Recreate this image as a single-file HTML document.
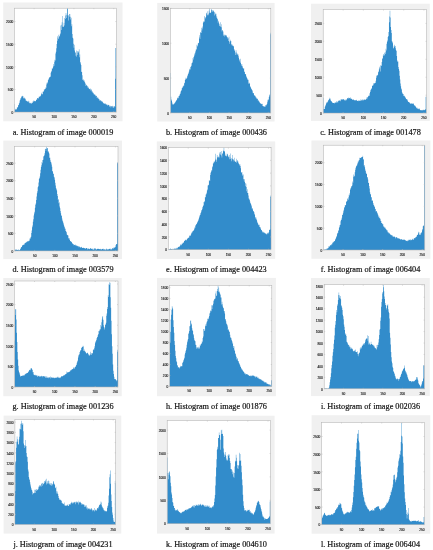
<!DOCTYPE html>
<html lang="en">
<head>
<meta charset="utf-8">
<title>Histograms of images</title>
<style>
html,body{margin:0;padding:0;background:#fff;}
body{width:433px;height:550px;position:relative;overflow:hidden;}
#fig{position:absolute;left:0;top:0;width:433px;height:550px;}
#fig text{font-family:"Liberation Sans",sans-serif;font-size:3.2px;fill:#1c1c1c;stroke:#1c1c1c;stroke-width:0.12px;}
#fig text.cap{font-family:"Liberation Serif",serif;font-size:8.25px;fill:#111;stroke:#111;stroke-width:0.18px;}
</style>
</head>
<body>
<svg id="fig" width="433" height="550" viewBox="0 0 433 550">
<defs><filter id="soft" x="-5%" y="-5%" width="110%" height="110%"><feGaussianBlur stdDeviation="0.3"/></filter></defs>
<g id="p-a">
<clipPath id="clip-a"><rect x="14.5" y="8.2" width="101.8" height="103.9"/></clipPath>
<rect x="3.2" y="2.5" width="119.3" height="118.8" fill="#f0f0f0"/>
<rect x="14.5" y="8.2" width="101.8" height="103.9" fill="#fff"/>
<path d="M14.5 114.1V104.09H14.9V109.75H15.3V109.43H15.69V108.71H16.09V109.2H16.49V109.42H16.89V107.38H17.28V107.52H17.68V106.98H18.08V105.35H18.48V104.9H18.87V103.55H19.27V102.71H19.67V100.52H20.07V99.69H20.46V98.35H20.86V98.13H21.26V96.92H21.66V96.08H22.06V95.78H22.45V96.45H22.85V95.96H23.25V97.84H23.65V98.41H24.04V98.45H24.44V97.57H24.84V98.29H25.24V98.93H25.63V100.45H26.03V100.74H26.43V100.68H26.83V101.17H27.22V101.46H27.62V101.4H28.02V100.63H28.42V102.32H28.82V101.26H29.21V103.14H29.61V102.67H30.01V103.27H30.41V102.87H30.8V103.55H31.2V103.71H31.6V102.86H32V102.45H32.39V102.95H32.79V101.23H33.19V100.59H33.59V101.74H33.99V100.86H34.38V101.08H34.78V101.47H35.18V100.94H35.58V101.25H35.97V99.92H36.37V99.59H36.77V99.58H37.17V97.96H37.56V97.94H37.96V98.7H38.36V98.12H38.76V96.74H39.15V96.92H39.55V96.16H39.95V96.59H40.35V96.11H40.75V95.28H41.14V93.97H41.54V92.81H41.94V94.29H42.34V94.24H42.73V91.79H43.13V91.58H43.53V91.43H43.93V89.24H44.32V90.37H44.72V89.04H45.12V89.02H45.52V87.38H45.91V87.81H46.31V84.62H46.71V82.77H47.11V83.46H47.51V82.23H47.9V80.27H48.3V79.48H48.7V78.48H49.1V77.32H49.49V77.45H49.89V77.04H50.29V76.41H50.69V72.74H51.08V70.81H51.48V71.82H51.88V68.17H52.28V68.88H52.67V67.72H53.07V66.39H53.47V64H53.87V65.78H54.27V61.85H54.66V59.66H55.06V60.4H55.46V53.55H55.86V51.65H56.25V48.26H56.65V44.07H57.05V40.8H57.45V36.23H57.84V37.68H58.24V38.93H58.64V34.74H59.04V36.33H59.44V36.41H59.83V34.4H60.23V33.59H60.63V25.5H61.03V24.67H61.42V29.91H61.82V22.33H62.22V26.69H62.62V16.03H63.01V26.69H63.41V26.72H63.81V22.68H64.21V25.52H64.6V18.09H65V18.9H65.4V15.39H65.8V12.98H66.2V17.9H66.59V14.86H66.99V8.2H67.39V8.2H67.79V15.44H68.18V15.29H68.58V20.42H68.98V16.75H69.38V14H69.77V14.05H70.17V19.55H70.57V16.67H70.97V17.78H71.36V26.2H71.76V24.13H72.16V33.99H72.56V37.83H72.96V38.48H73.35V43.72H73.75V47.72H74.15V44.73H74.55V50.48H74.94V52.07H75.34V53.02H75.74V55.75H76.14V56.67H76.53V50.5H76.93V55.05H77.33V51.09H77.73V52.49H78.12V51.24H78.52V52.61H78.92V49.18H79.32V57.33H79.72V54.56H80.11V62.05H80.51V63.57H80.91V65.09H81.31V71.65H81.7V71.95H82.1V75.23H82.5V80.01H82.9V78.98H83.29V80.55H83.69V80.41H84.09V80.56H84.49V82.05H84.89V82.87H85.28V83.72H85.68V86.03H86.08V84.67H86.48V85.33H86.87V85.73H87.27V87.47H87.67V85.99H88.07V87.47H88.46V87.76H88.86V88.98H89.26V88.65H89.66V89.2H90.05V88.51H90.45V90.57H90.85V89.23H91.25V89.66H91.65V91.47H92.04V91.3H92.44V92.44H92.84V92.42H93.24V94.23H93.63V93.11H94.03V93.99H94.43V95H94.83V94.5H95.22V95.31H95.62V96.35H96.02V95.82H96.42V96.02H96.81V97.96H97.21V96.95H97.61V98.27H98.01V97.65H98.41V99.08H98.8V99.23H99.2V100.75H99.6V99.55H100V100.16H100.39V100.35H100.79V101.34H101.19V100.71H101.59V101.43H101.98V101.6H102.38V101.87H102.78V102.42H103.18V103.17H103.57V103.13H103.97V103.95H104.37V103.56H104.77V103.34H105.17V103.58H105.56V104.14H105.96V104.65H106.36V104.18H106.76V104.42H107.15V105.69H107.55V104.63H107.95V104.99H108.35V104.73H108.74V105.24H109.14V106.68H109.54V105.59H109.94V106.17H110.34V105.85H110.73V107.41H111.13V106.25H111.53V106.13H111.93V105.77H112.32V106.36H112.72V107.41H113.12V106.42H113.52V108.08H113.91V106.06H114.31V106.35H114.71V107.23H115.11V78.72H115.5V48.01H115.9V47.99H116.3V114.1Z" fill="#318ccb" filter="url(#soft)" clip-path="url(#clip-a)"/>
<rect x="14.5" y="8.2" width="101.8" height="103.9" fill="none" stroke="#b4b4b4" stroke-width="0.55"/>
<text x="34.16" y="118" text-anchor="middle">50</text>
<text x="54.06" y="118" text-anchor="middle">100</text>
<text x="73.96" y="118" text-anchor="middle">150</text>
<text x="93.85" y="118" text-anchor="middle">200</text>
<text x="113.75" y="118" text-anchor="middle">250</text>
<text x="13.2" y="113.85" text-anchor="end">0</text>
<text x="13.2" y="91.21" text-anchor="end">500</text>
<text x="13.2" y="68.58" text-anchor="end">1000</text>
<text x="13.2" y="45.94" text-anchor="end">1500</text>
<text x="13.2" y="23.31" text-anchor="end">2000</text>
<path d="M34.16 112.1v-1M34.16 8.2v1M54.06 112.1v-1M54.06 8.2v1M73.96 112.1v-1M73.96 8.2v1M93.85 112.1v-1M93.85 8.2v1M113.75 112.1v-1M113.75 8.2v1M14.5 112.1h1M116.3 112.1h-1M14.5 89.46h1M116.3 89.46h-1M14.5 66.83h1M116.3 66.83h-1M14.5 44.19h1M116.3 44.19h-1M14.5 21.56h1M116.3 21.56h-1" stroke="#b4b4b4" stroke-width="0.5" fill="none"/>
</g>
<g id="p-b">
<clipPath id="clip-b"><rect x="170.4" y="8.4" width="100.4" height="104.5"/></clipPath>
<rect x="157.2" y="2.9" width="117.4" height="118.6" fill="#f0f0f0"/>
<rect x="170.4" y="8.4" width="100.4" height="104.5" fill="#fff"/>
<path d="M170.4 114.9V72.98H170.79V96.65H171.18V99.58H171.58V100.82H171.97V102.43H172.36V103.88H172.75V105.04H173.15V104.1H173.54V104.4H173.93V103.33H174.32V103.65H174.71V102.84H175.11V102.19H175.5V101.6H175.89V100.85H176.28V100.21H176.68V99.72H177.07V98.42H177.46V97.74H177.85V97.54H178.24V98.22H178.64V96.12H179.03V96.03H179.42V95.31H179.81V94.06H180.2V93.56H180.6V91.4H180.99V90.9H181.38V89.95H181.77V88.28H182.17V88H182.56V86.69H182.95V86.48H183.34V85.56H183.73V85.84H184.13V83.28H184.52V82.81H184.91V80.12H185.3V79.33H185.7V77.74H186.09V78.89H186.48V78.28H186.87V77.58H187.26V76H187.66V74.76H188.05V73.98H188.44V72.65H188.83V71.43H189.23V68.8H189.62V69.77H190.01V69.45H190.4V66.94H190.79V66.48H191.19V65.63H191.58V63.37H191.97V61.87H192.36V63.11H192.75V57.95H193.15V59.62H193.54V57.11H193.93V56.33H194.32V53.39H194.72V54.63H195.11V52.44H195.5V50.78H195.89V49.07H196.28V49.8H196.68V44.74H197.07V46.61H197.46V45.42H197.85V43.38H198.25V42.97H198.64V42.83H199.03V37.4H199.42V35.23H199.81V39.11H200.21V32.71H200.6V32.02H200.99V33.02H201.38V27.65H201.78V30.57H202.17V28.44H202.56V26.51H202.95V22.83H203.34V21.79H203.74V21.14H204.13V21.73H204.52V15.91H204.91V17.18H205.3V18.43H205.7V17.37H206.09V12.68H206.48V13.57H206.87V15.58H207.27V14.85H207.66V11.29H208.05V15.21H208.44V13.86H208.83V10.62H209.23V12.82H209.62V8.4H210.01V13H210.4V12.64H210.8V12.28H211.19V9.11H211.58V9.92H211.97V11.22H212.36V9.9H212.76V11.99H213.15V10.8H213.54V10.48H213.93V11.75H214.33V15.39H214.72V12.25H215.11V14.41H215.5V13.51H215.89V13.71H216.29V17.7H216.68V16.19H217.07V19.3H217.46V18.62H217.85V23.33H218.25V20.74H218.64V21.82H219.03V25.84H219.42V23.71H219.82V26.18H220.21V22.33H220.6V26.8H220.99V24.36H221.38V27.28H221.78V31.49H222.17V29.97H222.56V30.61H222.95V31.53H223.35V35.86H223.74V34.58H224.13V36.39H224.52V34.82H224.91V35.04H225.31V35.81H225.7V34.73H226.09V36.15H226.48V35.17H226.88V37.08H227.27V38.51H227.66V37.16H228.05V38.13H228.44V41.03H228.84V36.79H229.23V41.84H229.62V43.8H230.01V39.86H230.4V41.31H230.8V40.91H231.19V44.02H231.58V45.22H231.97V44.54H232.37V45.42H232.76V46.08H233.15V46.59H233.54V45.77H233.93V48.98H234.33V50.75H234.72V50.26H235.11V52.58H235.5V54.89H235.9V50.18H236.29V52.41H236.68V54.5H237.07V54.71H237.46V53.41H237.86V54.21H238.25V55.87H238.64V57.76H239.03V59.35H239.43V60.57H239.82V61.65H240.21V58.79H240.6V62.97H240.99V64.3H241.39V65.85H241.78V63.98H242.17V67.4H242.56V66.1H242.95V68.26H243.35V68.77H243.74V68.28H244.13V72H244.52V71.57H244.92V73.97H245.31V74.01H245.7V74.41H246.09V76.3H246.48V77.31H246.88V77.92H247.27V79.01H247.66V79.96H248.05V79.83H248.45V83.73H248.84V82.41H249.23V83.54H249.62V83.48H250.01V86.33H250.41V86.91H250.8V87.9H251.19V89.37H251.58V89.24H251.98V89.93H252.37V91.28H252.76V93.31H253.15V92.98H253.54V93.27H253.94V95.49H254.33V95.4H254.72V95.23H255.11V95.99H255.5V97.35H255.9V97.51H256.29V97.87H256.68V99.09H257.07V98.84H257.47V98.82H257.86V100.73H258.25V100.09H258.64V101.24H259.03V101.6H259.43V102.37H259.82V102.93H260.21V103.61H260.6V103.4H261V104.01H261.39V104.29H261.78V103.6H262.17V104.1H262.56V106.08H262.96V106.41H263.35V106.23H263.74V106.04H264.13V106.24H264.52V106.92H264.92V107.1H265.31V105.01H265.7V105.87H266.09V105.34H266.49V104.49H266.88V103.69H267.27V101.84H267.66V99.73H268.05V100.32H268.45V99.31H268.84V96.93H269.23V95.39H269.62V94.42H270.02V32.78H270.41V34.18H270.8V114.9Z" fill="#318ccb" filter="url(#soft)" clip-path="url(#clip-b)"/>
<rect x="170.4" y="8.4" width="100.4" height="104.5" fill="none" stroke="#b4b4b4" stroke-width="0.55"/>
<text x="189.79" y="118.8" text-anchor="middle">50</text>
<text x="209.41" y="118.8" text-anchor="middle">100</text>
<text x="229.04" y="118.8" text-anchor="middle">150</text>
<text x="248.66" y="118.8" text-anchor="middle">200</text>
<text x="268.29" y="118.8" text-anchor="middle">250</text>
<text x="169.1" y="114.65" text-anchor="end">0</text>
<text x="169.1" y="79.82" text-anchor="end">500</text>
<text x="169.1" y="44.98" text-anchor="end">1000</text>
<text x="169.1" y="10.15" text-anchor="end">1500</text>
<path d="M189.79 112.9v-1M189.79 8.4v1M209.41 112.9v-1M209.41 8.4v1M229.04 112.9v-1M229.04 8.4v1M248.66 112.9v-1M248.66 8.4v1M268.29 112.9v-1M268.29 8.4v1M170.4 112.9h1M270.8 112.9h-1M170.4 78.07h1M270.8 78.07h-1M170.4 43.23h1M270.8 43.23h-1M170.4 8.4h1M270.8 8.4h-1" stroke="#b4b4b4" stroke-width="0.5" fill="none"/>
</g>
<g id="p-c">
<clipPath id="clip-c"><rect x="323.2" y="9.5" width="103.3" height="103.6"/></clipPath>
<rect x="311" y="3.7" width="118.8" height="117.2" fill="#f0f0f0"/>
<rect x="323.2" y="9.5" width="103.3" height="103.6" fill="#fff"/>
<path d="M323.2 115.1V97.85H323.6V108.89H324.01V109H324.41V109.01H324.81V106.66H325.22V105.8H325.62V104.64H326.02V103.57H326.43V102.35H326.83V103.03H327.24V101.55H327.64V101.89H328.04V100.34H328.45V100.18H328.85V99.13H329.25V97.72H329.66V98.99H330.06V98.46H330.46V100.18H330.87V101.04H331.27V100.89H331.67V101.95H332.08V102.59H332.48V102.85H332.88V102.96H333.29V103.04H333.69V102.89H334.09V103.5H334.5V102.84H334.9V102.45H335.31V102.84H335.71V102.2H336.11V102.72H336.52V101.28H336.92V101.31H337.32V102.19H337.73V102.46H338.13V100.78H338.53V100.87H338.94V100.63H339.34V99.95H339.74V101.06H340.15V99.42H340.55V101.22H340.95V99.64H341.36V99.15H341.76V99.3H342.17V99.41H342.57V99.48H342.97V99.07H343.38V99.13H343.78V99.87H344.18V100.48H344.59V99.87H344.99V99.4H345.39V100.44H345.8V100.39H346.2V99.39H346.6V99.41H347.01V98.32H347.41V98.22H347.81V98.25H348.22V97.56H348.62V98.46H349.02V98.28H349.43V97.92H349.83V97.8H350.24V97.41H350.64V98.96H351.04V98.74H351.45V98.85H351.85V98.92H352.25V99.76H352.66V99.99H353.06V100.04H353.46V99.08H353.87V100.34H354.27V100.1H354.67V100.52H355.08V99.91H355.48V100.43H355.88V100.37H356.29V99.85H356.69V100.41H357.1V100.93H357.5V100.88H357.9V100.26H358.31V100.79H358.71V101.26H359.11V100.68H359.52V100.4H359.92V101.06H360.32V100.47H360.73V99.17H361.13V100.67H361.53V99.93H361.94V99.46H362.34V100.47H362.74V99.56H363.15V100.46H363.55V99.7H363.96V99.83H364.36V99.43H364.76V99.58H365.17V99.78H365.57V99.73H365.97V99.02H366.38V97.46H366.78V99.25H367.18V97.05H367.59V97.56H367.99V96.48H368.39V95.82H368.8V95.69H369.2V95.74H369.6V93.21H370.01V92.05H370.41V90.27H370.81V89.52H371.22V88.55H371.62V88.41H372.03V85.6H372.43V86.06H372.83V85.45H373.24V84.47H373.64V83.03H374.04V83.15H374.45V83.4H374.85V83.06H375.25V82.74H375.66V80.72H376.06V77.67H376.46V75.51H376.87V75.99H377.27V75.02H377.67V74.76H378.08V72.13H378.48V71.46H378.89V69.46H379.29V66.65H379.69V68.24H380.1V71.62H380.5V65.26H380.9V65.71H381.31V65.67H381.71V61.9H382.11V59.02H382.52V58.02H382.92V55.6H383.32V53.98H383.73V55.81H384.13V55.31H384.53V52.75H384.94V52.18H385.34V54.11H385.74V48.72H386.15V50.49H386.55V43.66H386.96V41.68H387.36V40.47H387.76V36.91H388.17V36.01H388.57V31.93H388.97V22.36H389.38V16.51H389.78V10.81H390.18V17.5H390.59V27.1H390.99V29.91H391.39V32.88H391.8V41.13H392.2V41.75H392.6V43.32H393.01V47.71H393.41V48.43H393.82V45.67H394.22V46.73H394.62V44.84H395.03V46.04H395.43V48.18H395.83V50.11H396.24V50.99H396.64V56.1H397.04V60.41H397.45V61.64H397.85V61.55H398.25V66.95H398.66V69.03H399.06V70.75H399.46V75.73H399.87V79.47H400.27V83.52H400.68V86.27H401.08V88.61H401.48V89.61H401.89V92.21H402.29V93.15H402.69V93.88H403.1V94.07H403.5V95.94H403.9V95.55H404.31V96.16H404.71V96.52H405.11V97.37H405.52V98.02H405.92V98.91H406.32V99.12H406.73V99.51H407.13V99.44H407.53V100.65H407.94V101.97H408.34V101.81H408.75V102.01H409.15V102.35H409.55V102.97H409.96V104.1H410.36V103.33H410.76V103.46H411.17V103.82H411.57V103.14H411.97V103.57H412.38V103.68H412.78V103.76H413.18V103.27H413.59V104.32H413.99V104.92H414.39V105.47H414.8V105.96H415.2V105.79H415.61V107.08H416.01V107.52H416.41V108.25H416.82V107.47H417.22V108.48H417.62V108.66H418.03V108.66H418.43V109.3H418.83V108.3H419.24V108.79H419.64V109.54H420.04V109.91H420.45V110.28H420.85V110.24H421.25V109.88H421.66V110.46H422.06V109.98H422.46V110.39H422.87V109.81H423.27V110.36H423.68V109.83H424.08V110.33H424.48V110.04H424.89V109.4H425.29V109.32H425.69V96.86H426.1V96.7H426.5V115.1Z" fill="#318ccb" filter="url(#soft)" clip-path="url(#clip-c)"/>
<rect x="323.2" y="9.5" width="103.3" height="103.6" fill="none" stroke="#b4b4b4" stroke-width="0.55"/>
<text x="343.15" y="119" text-anchor="middle">50</text>
<text x="363.34" y="119" text-anchor="middle">100</text>
<text x="383.53" y="119" text-anchor="middle">150</text>
<text x="403.72" y="119" text-anchor="middle">200</text>
<text x="423.92" y="119" text-anchor="middle">250</text>
<text x="321.9" y="114.85" text-anchor="end">0</text>
<text x="321.9" y="96.91" text-anchor="end">500</text>
<text x="321.9" y="78.96" text-anchor="end">1000</text>
<text x="321.9" y="61.02" text-anchor="end">1500</text>
<text x="321.9" y="43.08" text-anchor="end">2000</text>
<text x="321.9" y="25.14" text-anchor="end">2500</text>
<path d="M343.15 113.1v-1M343.15 9.5v1M363.34 113.1v-1M363.34 9.5v1M383.53 113.1v-1M383.53 9.5v1M403.72 113.1v-1M403.72 9.5v1M423.92 113.1v-1M423.92 9.5v1M323.2 113.1h1M426.5 113.1h-1M323.2 95.16h1M426.5 95.16h-1M323.2 77.21h1M426.5 77.21h-1M323.2 59.27h1M426.5 59.27h-1M323.2 41.33h1M426.5 41.33h-1M323.2 23.39h1M426.5 23.39h-1" stroke="#b4b4b4" stroke-width="0.5" fill="none"/>
</g>
<g id="p-d">
<clipPath id="clip-d"><rect x="14.7" y="146.4" width="103.3" height="104.5"/></clipPath>
<rect x="3.3" y="140.6" width="118.7" height="118.5" fill="#f0f0f0"/>
<rect x="14.7" y="146.4" width="103.3" height="104.5" fill="#fff"/>
<path d="M14.7 252.9V249.85H15.1V249.4H15.51V249.74H15.91V250.08H16.31V249.56H16.72V249.38H17.12V249.99H17.52V249.89H17.93V249.79H18.33V249.52H18.74V250.49H19.14V250.21H19.54V249.88H19.95V248.82H20.35V249.15H20.75V247.7H21.16V246.97H21.56V246.94H21.96V245.96H22.37V245.08H22.77V244.92H23.17V244.61H23.58V245.1H23.98V243.39H24.38V244.77H24.79V243.35H25.19V242.39H25.59V242.88H26V242.05H26.4V242.52H26.81V241.6H27.21V241.54H27.61V241.21H28.02V241.51H28.42V241.12H28.82V240.6H29.23V240.76H29.63V238.39H30.03V238.7H30.44V237.43H30.84V236.67H31.24V233.04H31.65V230.55H32.05V227.35H32.45V225.58H32.86V221.85H33.26V219.18H33.67V215.53H34.07V213.45H34.47V211.82H34.88V207.67H35.28V204.79H35.68V203.52H36.09V200.02H36.49V196.55H36.89V193.28H37.3V191.16H37.7V187.29H38.1V186.15H38.51V182.52H38.91V178.63H39.31V178.35H39.72V176.6H40.12V173.13H40.52V169.63H40.93V166.89H41.33V165.17H41.74V162.09H42.14V163.2H42.54V160.08H42.95V159.79H43.35V156.45H43.75V155.93H44.16V155.36H44.56V153.36H44.96V149.1H45.37V148.81H45.77V151.01H46.17V148.63H46.58V146.46H46.98V148.18H47.38V147.93H47.79V151.49H48.19V151.3H48.6V152.4H49V153.38H49.4V157.86H49.81V157.86H50.21V161.9H50.61V160.32H51.02V162.45H51.42V164.55H51.82V166.82H52.23V171.48H52.63V170.93H53.03V173.68H53.44V173.7H53.84V176.74H54.24V177.4H54.65V179.63H55.05V182.8H55.46V185.54H55.86V188.01H56.26V189.17H56.67V190.4H57.07V194.07H57.47V195.97H57.88V199.94H58.28V198.99H58.68V203.2H59.09V202.26H59.49V206.53H59.89V208.26H60.3V210.94H60.7V213.21H61.1V215.18H61.51V216.05H61.91V218.62H62.31V220.48H62.72V221.57H63.12V222.66H63.53V224.54H63.93V225.77H64.33V226.98H64.74V228.61H65.14V228.69H65.54V230.9H65.95V231.42H66.35V232.17H66.75V234.59H67.16V235.12H67.56V235.26H67.96V235.55H68.37V238.49H68.77V238.11H69.17V238.56H69.58V239.98H69.98V240.95H70.39V241.08H70.79V241.69H71.19V241.79H71.6V242.19H72V243.22H72.4V243.61H72.81V244.08H73.21V244H73.61V245.35H74.02V244.73H74.42V244.9H74.82V245.3H75.23V245.53H75.63V244.61H76.03V245.49H76.44V245.56H76.84V246.31H77.24V245.87H77.65V246.37H78.05V246.11H78.46V247.32H78.86V246.17H79.26V246.81H79.67V247.31H80.07V247.89H80.47V247H80.88V246.78H81.28V247.53H81.68V246.99H82.09V248.09H82.49V247.99H82.89V247.92H83.3V247.7H83.7V247.73H84.1V248.31H84.51V247.9H84.91V248.87H85.32V248.81H85.72V247.89H86.12V248.05H86.53V247.89H86.93V248.64H87.33V249.4H87.74V247.9H88.14V248.39H88.54V249.09H88.95V248.78H89.35V249.14H89.75V248.98H90.16V248.2H90.56V247.89H90.96V248.79H91.37V248.84H91.77V249.06H92.17V248.53H92.58V249.62H92.98V249.81H93.39V249.45H93.79V248.55H94.19V249.35H94.6V248.05H95V248.07H95.4V249.11H95.81V249.42H96.21V249.76H96.61V248.88H97.02V249.08H97.42V248.76H97.82V248.73H98.23V248.94H98.63V248.76H99.03V249.11H99.44V248.91H99.84V249.85H100.25V248.9H100.65V248.74H101.05V249.13H101.46V249.69H101.86V248.95H102.26V248.96H102.67V248.87H103.07V249.55H103.47V248.69H103.88V249.63H104.28V249.29H104.68V249.33H105.09V250.16H105.49V249.17H105.89V249.86H106.3V248.53H106.7V249.12H107.11V249.72H107.51V249.19H107.91V249.66H108.32V249.12H108.72V249.35H109.12V249.11H109.53V248.81H109.93V248.58H110.33V249.43H110.74V249.33H111.14V249.7H111.54V248.98H111.95V248.37H112.35V248.02H112.75V249.14H113.16V247.56H113.56V248.47H113.96V247.79H114.37V247.5H114.77V247.42H115.18V246.99H115.58V245.21H115.98V244.21H116.39V244.04H116.79V244.18H117.19V163.01H117.6V162.29H118V252.9Z" fill="#318ccb" filter="url(#soft)" clip-path="url(#clip-d)"/>
<rect x="14.7" y="146.4" width="103.3" height="104.5" fill="none" stroke="#b4b4b4" stroke-width="0.55"/>
<text x="34.65" y="256.8" text-anchor="middle">50</text>
<text x="54.84" y="256.8" text-anchor="middle">100</text>
<text x="75.03" y="256.8" text-anchor="middle">150</text>
<text x="95.22" y="256.8" text-anchor="middle">200</text>
<text x="115.42" y="256.8" text-anchor="middle">250</text>
<text x="13.4" y="252.65" text-anchor="end">0</text>
<text x="13.4" y="235.11" text-anchor="end">500</text>
<text x="13.4" y="217.57" text-anchor="end">1000</text>
<text x="13.4" y="200.03" text-anchor="end">1500</text>
<text x="13.4" y="182.49" text-anchor="end">2000</text>
<text x="13.4" y="164.95" text-anchor="end">2500</text>
<path d="M34.65 250.9v-1M34.65 146.4v1M54.84 250.9v-1M54.84 146.4v1M75.03 250.9v-1M75.03 146.4v1M95.22 250.9v-1M95.22 146.4v1M115.42 250.9v-1M115.42 146.4v1M14.7 250.9h1M118 250.9h-1M14.7 233.36h1M118 233.36h-1M14.7 215.82h1M118 215.82h-1M14.7 198.28h1M118 198.28h-1M14.7 180.74h1M118 180.74h-1M14.7 163.2h1M118 163.2h-1" stroke="#b4b4b4" stroke-width="0.5" fill="none"/>
</g>
<g id="p-e">
<clipPath id="clip-e"><rect x="168.4" y="147.6" width="102.7" height="102.1"/></clipPath>
<rect x="156.8" y="141.4" width="118.4" height="117.5" fill="#f0f0f0"/>
<rect x="168.4" y="147.6" width="102.7" height="102.1" fill="#fff"/>
<path d="M168.4 251.7V249.25H168.8V249.63H169.2V249.28H169.6V249.16H170V248.45H170.41V248.67H170.81V249.02H171.21V249.37H171.61V249.06H172.01V248.64H172.41V249.7H172.81V249.31H173.21V249.7H173.62V248.64H174.02V248.77H174.42V248.38H174.82V248.73H175.22V248.58H175.62V248.67H176.02V248.67H176.42V248.32H176.82V247.55H177.23V248.6H177.63V247.75H178.03V247.09H178.43V246.79H178.83V247.3H179.23V246.33H179.63V246.39H180.03V245.51H180.44V244.23H180.84V245.05H181.24V245.29H181.64V243.78H182.04V243.69H182.44V243.53H182.84V242.45H183.24V242.87H183.64V242.47H184.05V240.68H184.45V240.95H184.85V240.42H185.25V240.11H185.65V239.42H186.05V240.4H186.45V239.97H186.85V239.05H187.26V238.69H187.66V238.04H188.06V237.54H188.46V238.08H188.86V237.46H189.26V236.04H189.66V235.32H190.06V235.65H190.46V235.41H190.87V234.15H191.27V232.59H191.67V233.33H192.07V232.25H192.47V231.29H192.87V230.95H193.27V230.68H193.67V229.93H194.07V229.13H194.48V227.49H194.88V227.72H195.28V225.42H195.68V225.16H196.08V223.89H196.48V224.13H196.88V222.72H197.28V222.33H197.69V221.2H198.09V220.5H198.49V219.19H198.89V217.75H199.29V216.4H199.69V215.26H200.09V214.63H200.49V213.09H200.89V212.34H201.3V210.13H201.7V210.33H202.1V208.72H202.5V207.06H202.9V206.01H203.3V205.23H203.7V202H204.1V202.15H204.51V200.94H204.91V197.37H205.31V197.23H205.71V194.47H206.11V194.27H206.51V192.83H206.91V190.5H207.31V189.58H207.71V185.39H208.12V184.74H208.52V185.29H208.92V180.27H209.32V180.48H209.72V181.23H210.12V174.91H210.52V172.63H210.92V171.67H211.33V170.35H211.73V170.47H212.13V167.18H212.53V166.31H212.93V163.39H213.33V163.18H213.73V161.76H214.13V161.37H214.53V162.13H214.94V160.36H215.34V153.63H215.74V158.87H216.14V161.7H216.54V159.8H216.94V155.03H217.34V157.44H217.74V156.79H218.15V156.42H218.55V157.46H218.95V157.38H219.35V152.48H219.75V154.23H220.15V154.85H220.55V151.96H220.95V150.91H221.35V155.47H221.76V157.38H222.16V153.93H222.56V153H222.96V150.62H223.36V151.17H223.76V147.62H224.16V151.39H224.56V151.28H224.97V155.35H225.37V155.91H225.77V153.45H226.17V156.41H226.57V155.83H226.97V154.31H227.37V153.64H227.77V155.48H228.17V157.21H228.58V156.38H228.98V155.08H229.38V159.35H229.78V157.27H230.18V153.49H230.58V158.91H230.98V157.99H231.38V161.3H231.79V159.44H232.19V154.92H232.59V158.65H232.99V159.64H233.39V159.31H233.79V161.6H234.19V157.85H234.59V160.67H234.99V161.79H235.4V161.96H235.8V161.32H236.2V162.73H236.6V158.82H237V159.89H237.4V161.49H237.8V161.36H238.2V162.77H238.61V163.73H239.01V164.2H239.41V165.46H239.81V164.16H240.21V166.01H240.61V168.34H241.01V172.22H241.41V172.75H241.81V171.91H242.22V175.71H242.62V174.59H243.02V174.42H243.42V179.11H243.82V180.4H244.22V178.89H244.62V181.99H245.02V182.98H245.43V186.2H245.83V183.77H246.23V186.9H246.63V191.32H247.03V189.36H247.43V193.06H247.83V193.12H248.23V195.45H248.63V198.51H249.04V198.86H249.44V199.92H249.84V201.51H250.24V203.58H250.64V203.36H251.04V204.63H251.44V206.29H251.84V208.72H252.24V207.97H252.65V209.38H253.05V210.91H253.45V211.27H253.85V211.93H254.25V213.78H254.65V214.77H255.05V217.03H255.45V218.44H255.86V217.51H256.26V219.15H256.66V220.17H257.06V221.74H257.46V222.89H257.86V223.82H258.26V225.35H258.66V224.71H259.06V224.86H259.47V226.92H259.87V227.31H260.27V227.49H260.67V229.12H261.07V230.01H261.47V230.08H261.87V231.04H262.27V231.67H262.68V232.39H263.08V231.68H263.48V232.76H263.88V231.88H264.28V232.94H264.68V233.13H265.08V233.85H265.48V233.27H265.88V233.47H266.29V233.88H266.69V234.73H267.09V232.74H267.49V233.38H267.89V233.69H268.29V232.82H268.69V232.13H269.09V229.92H269.5V229.66H269.9V229.62H270.3V196.77H270.7V195.46H271.1V251.7Z" fill="#318ccb" filter="url(#soft)" clip-path="url(#clip-e)"/>
<rect x="168.4" y="147.6" width="102.7" height="102.1" fill="none" stroke="#b4b4b4" stroke-width="0.55"/>
<text x="188.23" y="255.6" text-anchor="middle">50</text>
<text x="208.31" y="255.6" text-anchor="middle">100</text>
<text x="228.38" y="255.6" text-anchor="middle">150</text>
<text x="248.46" y="255.6" text-anchor="middle">200</text>
<text x="268.53" y="255.6" text-anchor="middle">250</text>
<text x="167.1" y="251.45" text-anchor="end">0</text>
<text x="167.1" y="238.69" text-anchor="end">200</text>
<text x="167.1" y="225.92" text-anchor="end">400</text>
<text x="167.1" y="213.16" text-anchor="end">600</text>
<text x="167.1" y="200.4" text-anchor="end">800</text>
<text x="167.1" y="187.64" text-anchor="end">1000</text>
<text x="167.1" y="174.88" text-anchor="end">1200</text>
<text x="167.1" y="162.11" text-anchor="end">1400</text>
<text x="167.1" y="149.35" text-anchor="end">1600</text>
<path d="M188.23 249.7v-1M188.23 147.6v1M208.31 249.7v-1M208.31 147.6v1M228.38 249.7v-1M228.38 147.6v1M248.46 249.7v-1M248.46 147.6v1M268.53 249.7v-1M268.53 147.6v1M168.4 249.7h1M271.1 249.7h-1M168.4 236.94h1M271.1 236.94h-1M168.4 224.17h1M271.1 224.17h-1M168.4 211.41h1M271.1 211.41h-1M168.4 198.65h1M271.1 198.65h-1M168.4 185.89h1M271.1 185.89h-1M168.4 173.12h1M271.1 173.12h-1M168.4 160.36h1M271.1 160.36h-1M168.4 147.6h1M271.1 147.6h-1" stroke="#b4b4b4" stroke-width="0.5" fill="none"/>
</g>
<g id="p-f">
<clipPath id="clip-f"><rect x="323.5" y="145.2" width="101.3" height="104.8"/></clipPath>
<rect x="311.4" y="140.5" width="119" height="118.3" fill="#f0f0f0"/>
<rect x="323.5" y="145.2" width="101.3" height="104.8" fill="#fff"/>
<path d="M323.5 252V249.56H323.9V248.96H324.29V249.93H324.69V249.76H325.08V249.74H325.48V249.29H325.87V249.03H326.27V249.81H326.67V248.53H327.06V248.47H327.46V248.59H327.85V248.18H328.25V246.34H328.64V247.81H329.04V246.69H329.44V246.15H329.83V245.83H330.23V245.32H330.62V244.97H331.02V245.36H331.41V244.03H331.81V244.47H332.21V243.36H332.6V242.46H333V242.24H333.39V242.29H333.79V241.24H334.18V240.88H334.58V241.2H334.98V239.81H335.37V239.12H335.77V237.95H336.16V236.75H336.56V236.16H336.95V234.31H337.35V232.87H337.75V233.11H338.14V230.67H338.54V230.37H338.93V227.73H339.33V226.69H339.72V224.89H340.12V224.84H340.52V221.32H340.91V219.78H341.31V219.87H341.7V217.65H342.1V215.12H342.49V214.87H342.89V213.27H343.29V211.34H343.68V209.82H344.08V207.13H344.47V207.5H344.87V205.09H345.26V205.25H345.66V205.29H346.06V201.59H346.45V201.84H346.85V201.07H347.24V199.31H347.64V198.28H348.03V199.7H348.43V197.32H348.82V194.78H349.22V195.56H349.62V193.15H350.01V188.6H350.41V189.78H350.8V187.77H351.2V186.03H351.59V186.6H351.99V185.39H352.39V181.52H352.78V182.63H353.18V176.83H353.57V174.41H353.97V175.67H354.36V176.55H354.76V172.26H355.16V169.83H355.55V167.67H355.95V166.62H356.34V165.87H356.74V165.6H357.13V164.13H357.53V162.77H357.93V160.81H358.32V162.18H358.72V160.6H359.11V159.98H359.51V157.77H359.9V157.91H360.3V157.63H360.7V158.1H361.09V157.07H361.49V157.4H361.88V157.12H362.28V157.04H362.67V155.77H363.07V159.21H363.47V159.56H363.86V165.87H364.26V165.02H364.65V167.35H365.05V169.57H365.44V170.93H365.84V172.76H366.24V173.69H366.63V173.95H367.03V177.15H367.42V177.18H367.82V179.43H368.21V182.94H368.61V182.72H369.01V186.1H369.4V188.4H369.8V192.26H370.19V194.1H370.59V194.39H370.98V197H371.38V197.38H371.78V200.79H372.17V200.5H372.57V200.4H372.96V202.95H373.36V204.64H373.75V205.29H374.15V206.88H374.55V206.33H374.94V208.71H375.34V208.97H375.73V211.61H376.13V210.98H376.52V211.28H376.92V212.53H377.32V213.21H377.71V214.39H378.11V215.62H378.5V217.14H378.9V216.57H379.29V217.96H379.69V218.56H380.09V218.7H380.48V220.7H380.88V220.97H381.27V222.91H381.67V222.94H382.06V223.44H382.46V224.31H382.86V224.28H383.25V226.31H383.65V226.79H384.04V226.86H384.44V227.88H384.83V227.29H385.23V228.47H385.63V228.7H386.02V229.25H386.42V230.17H386.81V230.25H387.21V230.51H387.6V232.16H388V231.97H388.4V233.22H388.79V232.79H389.19V233.25H389.58V233.68H389.98V234.9H390.37V234.1H390.77V234.72H391.17V235.03H391.56V235.57H391.96V235.04H392.35V236.46H392.75V235.93H393.14V236.59H393.54V237.02H393.94V236.3H394.33V236.76H394.73V237.01H395.12V237.44H395.52V238.38H395.91V237.02H396.31V237.31H396.71V237.46H397.1V238.56H397.5V237.75H397.89V238.08H398.29V238.56H398.68V238.49H399.08V238.47H399.48V238.75H399.87V239.03H400.27V239.45H400.66V239.51H401.06V239.02H401.45V239.2H401.85V239.7H402.24V239.77H402.64V239.68H403.04V239.42H403.43V239.66H403.83V239.97H404.22V239.56H404.62V239.81H405.01V239.98H405.41V240.62H405.81V240.65H406.2V241.12H406.6V240.79H406.99V241.23H407.39V240.76H407.78V240.33H408.18V240.69H408.58V239.65H408.97V239.57H409.37V240.06H409.76V240.21H410.16V240.28H410.55V239.13H410.95V240.29H411.35V240.08H411.74V239.62H412.14V238.8H412.53V239.53H412.93V239.74H413.32V239.85H413.72V238.41H414.12V238.21H414.51V237.98H414.91V238.32H415.3V237.38H415.7V237.06H416.09V236.85H416.49V236.38H416.89V234.9H417.28V235.01H417.68V234.41H418.07V233.21H418.47V231.63H418.86V232.33H419.26V234.51H419.66V234.91H420.05V234.97H420.45V233.6H420.84V233.16H421.24V232.81H421.63V232.03H422.03V230.24H422.43V228.91H422.82V226.32H423.22V225.82H423.61V225.42H424.01V145.2H424.4V145.2H424.8V252Z" fill="#318ccb" filter="url(#soft)" clip-path="url(#clip-f)"/>
<rect x="323.5" y="145.2" width="101.3" height="104.8" fill="none" stroke="#b4b4b4" stroke-width="0.55"/>
<text x="343.06" y="255.9" text-anchor="middle">50</text>
<text x="362.86" y="255.9" text-anchor="middle">100</text>
<text x="382.66" y="255.9" text-anchor="middle">150</text>
<text x="402.46" y="255.9" text-anchor="middle">200</text>
<text x="422.27" y="255.9" text-anchor="middle">250</text>
<text x="322.2" y="251.75" text-anchor="end">0</text>
<text x="322.2" y="229.93" text-anchor="end">500</text>
<text x="322.2" y="208.1" text-anchor="end">1000</text>
<text x="322.2" y="186.28" text-anchor="end">1500</text>
<text x="322.2" y="164.45" text-anchor="end">2000</text>
<path d="M343.06 250v-1M343.06 145.2v1M362.86 250v-1M362.86 145.2v1M382.66 250v-1M382.66 145.2v1M402.46 250v-1M402.46 145.2v1M422.27 250v-1M422.27 145.2v1M323.5 250h1M424.8 250h-1M323.5 228.18h1M424.8 228.18h-1M323.5 206.35h1M424.8 206.35h-1M323.5 184.53h1M424.8 184.53h-1M323.5 162.7h1M424.8 162.7h-1" stroke="#b4b4b4" stroke-width="0.5" fill="none"/>
</g>
<g id="p-g">
<clipPath id="clip-g"><rect x="14.5" y="281" width="103.5" height="106"/></clipPath>
<rect x="3.3" y="278" width="118.4" height="118.2" fill="#f0f0f0"/>
<rect x="14.5" y="281" width="103.5" height="106" fill="#fff"/>
<path d="M14.5 389V340.41H14.9V314.9H15.31V309.36H15.71V309.26H16.12V319.58H16.52V332.8H16.93V342.12H17.33V352.06H17.73V359.39H18.14V365.72H18.54V370.51H18.95V372.03H19.35V373.3H19.76V374.69H20.16V376.02H20.56V376.7H20.97V375.98H21.37V375.98H21.78V375.8H22.18V375.36H22.59V376.09H22.99V375.96H23.39V374.91H23.8V375.3H24.2V374.46H24.61V375.41H25.01V373.75H25.42V374.36H25.82V373.68H26.22V373.09H26.63V373.52H27.03V373.04H27.44V372.89H27.84V372.19H28.25V371.26H28.65V371.76H29.05V370.14H29.46V369.89H29.86V369.41H30.27V370.14H30.67V368.32H31.08V368.19H31.48V368.27H31.88V369.15H32.29V369.99H32.69V372.25H33.1V372.01H33.5V374.53H33.91V374.75H34.31V375.3H34.71V375.12H35.12V374.74H35.52V375.46H35.93V375.65H36.33V375.11H36.74V375.8H37.14V375.56H37.54V376.92H37.95V376.19H38.35V375.91H38.76V375.41H39.16V376.82H39.57V376.18H39.97V376.36H40.38V376.14H40.78V376.92H41.18V376.09H41.59V375.7H41.99V377.31H42.4V376.08H42.8V376.07H43.21V376.36H43.61V376.25H44.01V376.57H44.42V376.33H44.82V376.82H45.23V376.17H45.63V378.1H46.04V376.31H46.44V377.45H46.84V377.88H47.25V377.66H47.65V376.87H48.06V377.16H48.46V378.27H48.87V377.53H49.27V377.2H49.67V377.5H50.08V378.58H50.48V376.61H50.89V377.23H51.29V377.63H51.7V377.13H52.1V377.69H52.5V377.63H52.91V377.35H53.31V377.8H53.72V378.04H54.12V377.8H54.53V378.37H54.93V377.36H55.33V378.1H55.74V377.93H56.14V377.28H56.55V377.9H56.95V377.05H57.36V377.79H57.76V376.59H58.16V377.5H58.57V377.71H58.97V377.13H59.38V377.98H59.78V378.3H60.19V377.28H60.59V377.39H60.99V376.84H61.4V375.88H61.8V376.34H62.21V376.37H62.61V376.21H63.02V375.78H63.42V375.4H63.82V375.04H64.23V374.78H64.63V375.46H65.04V374.13H65.44V374.36H65.85V373.93H66.25V373.6H66.65V371.61H67.06V373.09H67.46V371.91H67.87V371.96H68.27V372.35H68.68V372.37H69.08V371.91H69.48V371.49H69.89V371.13H70.29V370.45H70.7V369.98H71.1V369.52H71.51V370.35H71.91V369.22H72.31V369.04H72.72V369.18H73.12V368.14H73.53V367.27H73.93V368.99H74.34V367.77H74.74V367.27H75.14V366.91H75.55V366.27H75.95V365.15H76.36V364.81H76.76V362.7H77.17V361.48H77.57V360.57H77.97V357.53H78.38V355.42H78.78V354.78H79.19V354.37H79.59V351.93H80V351.26H80.4V350.23H80.8V350.04H81.21V347.41H81.61V348.04H82.02V346.78H82.42V346.93H82.83V345.8H83.23V346.48H83.63V350.89H84.04V349.48H84.44V350.99H84.85V351.59H85.25V351.87H85.66V352.56H86.06V353.1H86.46V353.72H86.87V353.21H87.27V352.74H87.68V352.83H88.08V353.91H88.49V354.66H88.89V355.8H89.29V355.51H89.7V354.68H90.1V354.55H90.51V351.67H90.91V353.02H91.32V354.94H91.72V353.44H92.12V352.91H92.53V353.58H92.93V349.96H93.34V349.01H93.74V350.13H94.15V348.21H94.55V346.15H94.96V343.2H95.36V341.77H95.76V341.21H96.17V338.31H96.57V340.11H96.98V336.69H97.38V337.27H97.79V334.88H98.19V330.99H98.59V333.95H99V330.34H99.4V331.33H99.81V329.06H100.21V329.38H100.62V324.97H101.02V326.43H101.42V322.2H101.83V319.55H102.23V317.17H102.64V315.98H103.04V319.81H103.45V325.17H103.85V327.08H104.25V329.62H104.66V327.84H105.06V324.21H105.47V324.94H105.87V322.71H106.28V315.87H106.68V313.49H107.08V308.97H107.49V306.89H107.89V295.28H108.3V296.99H108.7V284.19H109.11V282.2H109.51V285.04H109.91V282.7H110.32V297.32H110.72V307.63H111.13V320.71H111.53V334.36H111.94V346.35H112.34V353.69H112.74V364.54H113.15V370.81H113.55V373.92H113.96V376.7H114.36V379.1H114.77V379.37H115.17V379.11H115.57V379.41H115.98V381.15H116.38V379.9H116.79V380.53H117.19V349.84H117.6V351.78H118V389Z" fill="#318ccb" filter="url(#soft)" clip-path="url(#clip-g)"/>
<rect x="14.5" y="281" width="103.5" height="106" fill="none" stroke="#b4b4b4" stroke-width="0.55"/>
<text x="34.49" y="392.9" text-anchor="middle">50</text>
<text x="54.72" y="392.9" text-anchor="middle">100</text>
<text x="74.95" y="392.9" text-anchor="middle">150</text>
<text x="95.18" y="392.9" text-anchor="middle">200</text>
<text x="115.41" y="392.9" text-anchor="middle">250</text>
<text x="13.2" y="388.75" text-anchor="end">0</text>
<text x="13.2" y="368.15" text-anchor="end">500</text>
<text x="13.2" y="347.55" text-anchor="end">1000</text>
<text x="13.2" y="326.95" text-anchor="end">1500</text>
<text x="13.2" y="306.36" text-anchor="end">2000</text>
<text x="13.2" y="285.76" text-anchor="end">2500</text>
<path d="M34.49 387v-1M34.49 281v1M54.72 387v-1M54.72 281v1M74.95 387v-1M74.95 281v1M95.18 387v-1M95.18 281v1M115.41 387v-1M115.41 281v1M14.5 387h1M118 387h-1M14.5 366.4h1M118 366.4h-1M14.5 345.8h1M118 345.8h-1M14.5 325.2h1M118 325.2h-1M14.5 304.61h1M118 304.61h-1M14.5 284.01h1M118 284.01h-1" stroke="#b4b4b4" stroke-width="0.5" fill="none"/>
</g>
<g id="p-h">
<clipPath id="clip-h"><rect x="169.5" y="285.4" width="102.3" height="101"/></clipPath>
<rect x="157" y="277.9" width="118.9" height="118.3" fill="#f0f0f0"/>
<rect x="169.5" y="285.4" width="102.3" height="101" fill="#fff"/>
<path d="M169.5 388.4V367.76H169.9V342.55H170.3V332.06H170.7V319.42H171.1V314.85H171.5V309.79H171.9V306.15H172.3V307.86H172.7V309.37H173.1V320.29H173.5V327.04H173.9V332.66H174.3V340.96H174.69V345.03H175.09V350.78H175.49V356.01H175.89V358.16H176.29V361.27H176.69V362.24H177.09V364.89H177.49V365.65H177.89V367.75H178.29V367.07H178.69V367.14H179.09V368.42H179.49V367.62H179.89V367.32H180.29V366.52H180.69V365.64H181.09V366.54H181.49V366.02H181.89V366.13H182.29V362.89H182.69V362.15H183.09V361.57H183.49V360.1H183.89V358.63H184.29V357.63H184.69V354.6H185.08V352.98H185.48V351.33H185.88V349.7H186.28V347.65H186.68V344.72H187.08V342.15H187.48V340.58H187.88V338.89H188.28V334.06H188.68V332.71H189.08V330.96H189.48V326.29H189.88V325.81H190.28V320.72H190.68V320.5H191.08V323.62H191.48V324.61H191.88V328.15H192.28V330.36H192.68V331.03H193.08V334.03H193.48V335.36H193.88V338.22H194.28V339.91H194.68V341.11H195.08V341.17H195.47V344.63H195.87V345.1H196.27V348.68H196.67V347.13H197.07V347.7H197.47V347.26H197.87V349.05H198.27V347.8H198.67V346.78H199.07V348.85H199.47V347.4H199.87V344.74H200.27V346.02H200.67V344.57H201.07V343.93H201.47V343.25H201.87V341.35H202.27V342.22H202.67V338.08H203.07V336.56H203.47V328.97H203.87V329.08H204.27V331H204.67V330.62H205.07V326.28H205.46V324.6H205.86V326.01H206.26V323.54H206.66V321.68H207.06V321.37H207.46V318.68H207.86V318.68H208.26V319.23H208.66V317.4H209.06V313.54H209.46V315.92H209.86V312.83H210.26V311.04H210.66V310.19H211.06V311.34H211.46V305.17H211.86V309.06H212.26V305.03H212.66V305.63H213.06V303.8H213.46V300.78H213.86V300.16H214.26V299.12H214.66V298.76H215.06V293.54H215.46V298.51H215.85V291.2H216.25V295.92H216.65V295.48H217.05V290.93H217.45V288.89H217.85V285.4H218.25V291.65H218.65V287.38H219.05V292.45H219.45V291.62H219.85V293.81H220.25V294.75H220.65V297.38H221.05V297.44H221.45V304.41H221.85V301.86H222.25V304.37H222.65V306.57H223.05V307.82H223.45V308.27H223.85V311H224.25V311.15H224.65V313.46H225.05V319.32H225.45V319.14H225.84V321.21H226.24V323.57H226.64V324.32H227.04V324.81H227.44V326.62H227.84V330.02H228.24V328.92H228.64V330.57H229.04V331.73H229.44V331.86H229.84V334.8H230.24V337.89H230.64V336.98H231.04V338.22H231.44V340.01H231.84V341.08H232.24V343.76H232.64V342.4H233.04V345.88H233.44V348.1H233.84V346.26H234.24V349.73H234.64V351.09H235.04V353.83H235.44V353.42H235.84V355.75H236.23V356.89H236.63V359.59H237.03V358.05H237.43V359.3H237.83V361.08H238.23V360.99H238.63V362.46H239.03V363.37H239.43V364.21H239.83V365.3H240.23V366.86H240.63V366.69H241.03V368.01H241.43V368.95H241.83V370.04H242.23V369.62H242.63V370.8H243.03V371.11H243.43V371.94H243.83V372.04H244.23V373.67H244.63V373.05H245.03V373.17H245.43V374.55H245.83V374.29H246.23V374.07H246.62V374.22H247.02V374.12H247.42V374.77H247.82V374.69H248.22V374.98H248.62V375.45H249.02V375.87H249.42V375.99H249.82V375.64H250.22V375.38H250.62V376.27H251.02V376.28H251.42V375.66H251.82V375.35H252.22V376.01H252.62V375.36H253.02V375.38H253.42V375.67H253.82V375.7H254.22V376.67H254.62V376.12H255.02V377.54H255.42V376.33H255.82V377.18H256.22V376.37H256.61V376.98H257.01V376.75H257.41V377.92H257.81V378.13H258.21V378.7H258.61V377.55H259.01V378.97H259.41V378.5H259.81V379.39H260.21V378.9H260.61V379.43H261.01V379.5H261.41V379.88H261.81V380.85H262.21V380.5H262.61V380.75H263.01V381.74H263.41V380.72H263.81V381.29H264.21V381.99H264.61V382.83H265.01V381.9H265.41V382.72H265.81V382.13H266.21V383.75H266.61V382.79H267V383.47H267.4V384.05H267.8V383.89H268.2V384.44H268.6V384.37H269V384.66H269.4V384.58H269.8V384.36H270.2V385.71H270.6V384.96H271V380.31H271.4V380.26H271.8V388.4Z" fill="#318ccb" filter="url(#soft)" clip-path="url(#clip-h)"/>
<rect x="169.5" y="285.4" width="102.3" height="101" fill="none" stroke="#b4b4b4" stroke-width="0.55"/>
<text x="189.26" y="392.3" text-anchor="middle">50</text>
<text x="209.25" y="392.3" text-anchor="middle">100</text>
<text x="229.25" y="392.3" text-anchor="middle">150</text>
<text x="249.24" y="392.3" text-anchor="middle">200</text>
<text x="269.24" y="392.3" text-anchor="middle">250</text>
<text x="168.2" y="388.15" text-anchor="end">0</text>
<text x="168.2" y="377.18" text-anchor="end">200</text>
<text x="168.2" y="366.22" text-anchor="end">400</text>
<text x="168.2" y="355.25" text-anchor="end">600</text>
<text x="168.2" y="344.28" text-anchor="end">800</text>
<text x="168.2" y="333.32" text-anchor="end">1000</text>
<text x="168.2" y="322.35" text-anchor="end">1200</text>
<text x="168.2" y="311.39" text-anchor="end">1400</text>
<text x="168.2" y="300.42" text-anchor="end">1600</text>
<text x="168.2" y="289.45" text-anchor="end">1800</text>
<path d="M189.26 386.4v-1M189.26 285.4v1M209.25 386.4v-1M209.25 285.4v1M229.25 386.4v-1M229.25 285.4v1M249.24 386.4v-1M249.24 285.4v1M269.24 386.4v-1M269.24 285.4v1M169.5 386.4h1M271.8 386.4h-1M169.5 375.43h1M271.8 375.43h-1M169.5 364.47h1M271.8 364.47h-1M169.5 353.5h1M271.8 353.5h-1M169.5 342.53h1M271.8 342.53h-1M169.5 331.57h1M271.8 331.57h-1M169.5 320.6h1M271.8 320.6h-1M169.5 309.64h1M271.8 309.64h-1M169.5 298.67h1M271.8 298.67h-1M169.5 287.7h1M271.8 287.7h-1" stroke="#b4b4b4" stroke-width="0.5" fill="none"/>
</g>
<g id="p-i">
<clipPath id="clip-i"><rect x="324.2" y="284.7" width="100.4" height="104.1"/></clipPath>
<rect x="311" y="278" width="118.8" height="118.1" fill="#f0f0f0"/>
<rect x="324.2" y="284.7" width="100.4" height="104.1" fill="#fff"/>
<path d="M324.2 390.8V388.8H324.59V388.49H324.98V388.33H325.38V388.58H325.77V388.8H326.16V388.1H326.55V388.8H326.95V388.8H327.34V388.8H327.73V388.61H328.12V388.06H328.51V388.8H328.91V387.38H329.3V385.27H329.69V382.24H330.08V379.54H330.47V377.08H330.87V373.32H331.26V368.2H331.65V364.9H332.04V361.51H332.44V355.72H332.83V352.37H333.22V349.11H333.61V343.86H334V339.84H334.4V335.5H334.79V327.81H335.18V324.66H335.57V320.97H335.97V314.91H336.36V310.03H336.75V312.33H337.14V305.68H337.53V304.29H337.93V300.03H338.32V295.11H338.71V292.62H339.1V295.15H339.5V297.7H339.89V298.39H340.28V295.96H340.67V299.16H341.06V306.32H341.46V305.29H341.85V307.65H342.24V309.97H342.63V314.64H343.02V316.35H343.42V319.28H343.81V324.52H344.2V326.84H344.59V330.12H344.99V333.35H345.38V334.81H345.77V334.19H346.16V336.07H346.55V341.79H346.95V342.1H347.34V342.99H347.73V344.26H348.12V344.98H348.52V344.68H348.91V347.37H349.3V346.51H349.69V345.55H350.08V347.19H350.48V349.28H350.87V347.66H351.26V348.92H351.65V347.69H352.05V348.79H352.44V349.23H352.83V350.39H353.22V351.5H353.61V351.03H354.01V350.44H354.4V351.19H354.79V350.54H355.18V349.61H355.57V351.92H355.97V351.93H356.36V352.17H356.75V352.02H357.14V351.14H357.54V354H357.93V356.17H358.32V354.26H358.71V353.39H359.1V352.24H359.5V352.93H359.89V348.34H360.28V349.44H360.67V347.14H361.07V348.56H361.46V347.28H361.85V345.77H362.24V344.81H362.63V346.1H363.03V344.22H363.42V344.56H363.81V342.93H364.2V344.54H364.6V343.12H364.99V340.12H365.38V341.65H365.77V339.08H366.16V338.45H366.56V338.56H366.95V338.45H367.34V335.22H367.73V340.7H368.12V335.97H368.52V344.45H368.91V342.61H369.3V343.46H369.69V344.59H370.09V344.98H370.48V344.33H370.87V341.65H371.26V343.9H371.65V344.07H372.05V344.56H372.44V345.07H372.83V344.64H373.22V346.28H373.62V345.37H374.01V345.74H374.4V347.22H374.79V347.81H375.18V348.35H375.58V348.27H375.97V349.67H376.36V348.8H376.75V345H377.15V347.33H377.54V344.65H377.93V344.99H378.32V342.41H378.71V339.34H379.11V335.12H379.5V329.68H379.89V328.92H380.28V320.71H380.67V317.59H381.07V306.64H381.46V302.12H381.85V299H382.24V293.62H382.64V291.93H383.03V287.27H383.42V284.82H383.81V291.15H384.2V296.4H384.6V299.1H384.99V305.11H385.38V303.08H385.77V305.27H386.17V307.94H386.56V309.47H386.95V305.81H387.34V305.35H387.73V304.35H388.13V309.33H388.52V311.63H388.91V313.05H389.3V318.61H389.7V332.83H390.09V337.74H390.48V344.54H390.87V351.91H391.26V357.17H391.66V361.43H392.05V363.26H392.44V366.66H392.83V367.93H393.23V370.88H393.62V372.11H394.01V372.73H394.4V374.04H394.79V375.7H395.19V376.57H395.58V378.18H395.97V379.25H396.36V378.74H396.75V379.55H397.15V378.57H397.54V378.83H397.93V379.04H398.32V380.66H398.72V379.07H399.11V378.62H399.5V379.18H399.89V376.97H400.28V376.76H400.68V375.25H401.07V374.01H401.46V373.58H401.85V371.63H402.25V371.02H402.64V370.24H403.03V369.32H403.42V368.87H403.81V368.14H404.21V365.62H404.6V367.69H404.99V370.58H405.38V371.2H405.77V372.39H406.17V372.44H406.56V374.16H406.95V374.71H407.34V376.84H407.74V377.66H408.13V379.48H408.52V379.58H408.91V380.9H409.3V381.23H409.7V380.78H410.09V380.89H410.48V381.08H410.87V381.4H411.27V381.31H411.66V382.22H412.05V381.38H412.44V381.07H412.83V381.31H413.23V381.53H413.62V381.16H414.01V380.89H414.4V381.17H414.8V380.23H415.19V380.06H415.58V379.54H415.97V379.62H416.36V377.31H416.76V377.06H417.15V377.52H417.54V379.44H417.93V380.57H418.32V383.34H418.72V383.72H419.11V384.79H419.5V384.85H419.89V385.66H420.29V386.5H420.68V387.42H421.07V385.52H421.46V384.33H421.85V382.6H422.25V381.35H422.64V380.97H423.03V378.39H423.42V365.27H423.82V365.58H424.21V365.39H424.6V390.8Z" fill="#318ccb" filter="url(#soft)" clip-path="url(#clip-i)"/>
<rect x="324.2" y="284.7" width="100.4" height="104.1" fill="none" stroke="#b4b4b4" stroke-width="0.55"/>
<text x="343.59" y="394.7" text-anchor="middle">50</text>
<text x="363.21" y="394.7" text-anchor="middle">100</text>
<text x="382.84" y="394.7" text-anchor="middle">150</text>
<text x="402.46" y="394.7" text-anchor="middle">200</text>
<text x="422.09" y="394.7" text-anchor="middle">250</text>
<text x="322.9" y="390.55" text-anchor="end">0</text>
<text x="322.9" y="379.1" text-anchor="end">200</text>
<text x="322.9" y="367.66" text-anchor="end">400</text>
<text x="322.9" y="356.21" text-anchor="end">600</text>
<text x="322.9" y="344.77" text-anchor="end">800</text>
<text x="322.9" y="333.32" text-anchor="end">1000</text>
<text x="322.9" y="321.87" text-anchor="end">1200</text>
<text x="322.9" y="310.43" text-anchor="end">1400</text>
<text x="322.9" y="298.98" text-anchor="end">1600</text>
<text x="322.9" y="287.54" text-anchor="end">1800</text>
<path d="M343.59 388.8v-1M343.59 284.7v1M363.21 388.8v-1M363.21 284.7v1M382.84 388.8v-1M382.84 284.7v1M402.46 388.8v-1M402.46 284.7v1M422.09 388.8v-1M422.09 284.7v1M324.2 388.8h1M424.6 388.8h-1M324.2 377.35h1M424.6 377.35h-1M324.2 365.91h1M424.6 365.91h-1M324.2 354.46h1M424.6 354.46h-1M324.2 343.02h1M424.6 343.02h-1M324.2 331.57h1M424.6 331.57h-1M324.2 320.12h1M424.6 320.12h-1M324.2 308.68h1M424.6 308.68h-1M324.2 297.23h1M424.6 297.23h-1M324.2 285.79h1M424.6 285.79h-1" stroke="#b4b4b4" stroke-width="0.5" fill="none"/>
</g>
<g id="p-j">
<clipPath id="clip-j"><rect x="14.9" y="419.4" width="100.8" height="105.2"/></clipPath>
<rect x="3.6" y="415.6" width="117.7" height="118" fill="#f0f0f0"/>
<rect x="14.9" y="419.4" width="100.8" height="105.2" fill="#fff"/>
<path d="M14.9 526.6V491.14H15.29V462.16H15.69V461.13H16.08V447.82H16.48V441.65H16.87V436.55H17.26V439.24H17.66V441.85H18.05V444.31H18.44V444.39H18.84V439.55H19.23V436.65H19.62V428.8H20.02V428.91H20.41V423.8H20.81V429.84H21.2V423.53H21.59V420.79H21.99V423.18H22.38V424.99H22.78V423.57H23.17V431.19H23.56V443.6H23.96V445.56H24.35V448.05H24.74V445.07H25.14V440.11H25.53V446.38H25.93V446.11H26.32V453.09H26.71V456.6H27.11V457.01H27.5V461.65H27.89V469.44H28.29V471.46H28.68V477.02H29.07V478.73H29.47V479.9H29.86V482.33H30.26V484.56H30.65V486.61H31.04V488.31H31.44V489.75H31.83V490.22H32.22V491.71H32.62V494.44H33.01V493.56H33.41V492.91H33.8V493.36H34.19V492.64H34.59V489.83H34.98V493.07H35.38V489.84H35.77V489.68H36.16V488.93H36.56V491.03H36.95V490.25H37.34V489.47H37.74V489.83H38.13V488.64H38.52V486.68H38.92V486.34H39.31V485.06H39.71V486.8H40.1V485.46H40.49V485.53H40.89V486.75H41.28V483.66H41.67V483.61H42.07V482.97H42.46V485.64H42.86V482.87H43.25V484.02H43.64V484.31H44.04V480.93H44.43V482.98H44.82V481.52H45.22V479.66H45.61V481.4H46.01V478.81H46.4V484.55H46.79V482.99H47.19V483.87H47.58V481.36H47.97V480.42H48.37V483.47H48.76V480.99H49.16V484.56H49.55V483.56H49.94V482.88H50.34V485.16H50.73V484.58H51.12V485.71H51.52V482.92H51.91V483.89H52.31V485.18H52.7V483.82H53.09V481.77H53.49V480.91H53.88V483.5H54.27V484.48H54.67V484.53H55.06V487.74H55.46V488.2H55.85V486.64H56.24V491.23H56.64V493.49H57.03V491.57H57.42V493.5H57.82V493.95H58.21V496.11H58.61V497.9H59V500.11H59.39V498.39H59.79V499.61H60.18V499.77H60.57V500.31H60.97V500.6H61.36V500.67H61.76V502.91H62.15V502.69H62.54V503.82H62.94V503.56H63.33V504.15H63.72V504.07H64.12V502.56H64.51V505.57H64.91V505.34H65.3V506.03H65.69V505.42H66.09V505.8H66.48V505.45H66.88V505.33H67.27V504.6H67.66V505.46H68.06V505.97H68.45V506.1H68.84V504H69.24V504.21H69.63V504.76H70.02V504.77H70.42V503.44H70.81V503.17H71.21V502.66H71.6V501.77H71.99V503.85H72.39V502.67H72.78V502.32H73.17V503.36H73.57V502.27H73.96V502.7H74.36V501.96H74.75V501.73H75.14V504.14H75.54V502.34H75.93V501.22H76.33V502.56H76.72V502.34H77.11V502.71H77.51V501.95H77.9V500.84H78.29V504.48H78.69V502.49H79.08V501.71H79.47V502.61H79.87V502.45H80.26V501.67H80.66V502.86H81.05V503.16H81.44V504.8H81.84V503.52H82.23V504.63H82.62V503.92H83.02V504.11H83.41V504.88H83.81V504.32H84.2V505.35H84.59V507.02H84.99V505.18H85.38V506.53H85.78V506.76H86.17V505.37H86.56V508.52H86.96V507.35H87.35V509.38H87.74V508.05H88.14V508.27H88.53V509.08H88.92V509.43H89.32V508.32H89.71V508.91H90.11V510.05H90.5V508.89H90.89V508H91.29V508.62H91.68V509.6H92.08V509.7H92.47V511.15H92.86V509.75H93.26V510.4H93.65V510.09H94.04V507.89H94.44V511.5H94.83V510.65H95.22V509.6H95.62V510.09H96.01V510.17H96.41V510.69H96.8V509.3H97.19V508.05H97.59V508.04H97.98V508.58H98.38V507.09H98.77V506.15H99.16V504.99H99.56V504.77H99.95V503.76H100.34V504.48H100.74V501.4H101.13V502.47H101.53V505.16H101.92V507.18H102.31V506.41H102.71V508.23H103.1V508.15H103.49V509.64H103.89V510.4H104.28V510.27H104.67V511.36H105.07V511.32H105.46V510.73H105.86V511.46H106.25V511.36H106.64V511.14H107.04V507.98H107.43V506.25H107.83V505.46H108.22V502.65H108.61V495.38H109.01V488.87H109.4V477.28H109.79V474.22H110.19V470.43H110.58V483.72H110.97V494.45H111.37V501.05H111.76V507.1H112.16V512.47H112.55V514.76H112.94V517.88H113.34V520.62H113.73V521.95H114.12V522.12H114.52V521.86H114.91V480.7H115.31V483.15H115.7V526.6Z" fill="#318ccb" filter="url(#soft)" clip-path="url(#clip-j)"/>
<rect x="14.9" y="419.4" width="100.8" height="105.2" fill="none" stroke="#b4b4b4" stroke-width="0.55"/>
<text x="34.37" y="530.5" text-anchor="middle">50</text>
<text x="54.07" y="530.5" text-anchor="middle">100</text>
<text x="73.77" y="530.5" text-anchor="middle">150</text>
<text x="93.48" y="530.5" text-anchor="middle">200</text>
<text x="113.18" y="530.5" text-anchor="middle">250</text>
<text x="13.6" y="526.35" text-anchor="end">0</text>
<text x="13.6" y="516.1" text-anchor="end">200</text>
<text x="13.6" y="505.85" text-anchor="end">400</text>
<text x="13.6" y="495.6" text-anchor="end">600</text>
<text x="13.6" y="485.36" text-anchor="end">800</text>
<text x="13.6" y="475.11" text-anchor="end">1000</text>
<text x="13.6" y="464.86" text-anchor="end">1200</text>
<text x="13.6" y="454.61" text-anchor="end">1400</text>
<text x="13.6" y="444.36" text-anchor="end">1600</text>
<text x="13.6" y="434.11" text-anchor="end">1800</text>
<text x="13.6" y="423.87" text-anchor="end">2000</text>
<path d="M34.37 524.6v-1M34.37 419.4v1M54.07 524.6v-1M54.07 419.4v1M73.77 524.6v-1M73.77 419.4v1M93.48 524.6v-1M93.48 419.4v1M113.18 524.6v-1M113.18 419.4v1M14.9 524.6h1M115.7 524.6h-1M14.9 514.35h1M115.7 514.35h-1M14.9 504.1h1M115.7 504.1h-1M14.9 493.85h1M115.7 493.85h-1M14.9 483.61h1M115.7 483.61h-1M14.9 473.36h1M115.7 473.36h-1M14.9 463.11h1M115.7 463.11h-1M14.9 452.86h1M115.7 452.86h-1M14.9 442.61h1M115.7 442.61h-1M14.9 432.36h1M115.7 432.36h-1M14.9 422.12h1M115.7 422.12h-1" stroke="#b4b4b4" stroke-width="0.5" fill="none"/>
</g>
<g id="p-k">
<clipPath id="clip-k"><rect x="167.2" y="420.6" width="103.4" height="103.1"/></clipPath>
<rect x="157" y="415.7" width="117.6" height="117.9" fill="#f0f0f0"/>
<rect x="167.2" y="420.6" width="103.4" height="103.1" fill="#fff"/>
<path d="M167.2 525.7V457.46H167.6V472.93H168.01V472.77H168.41V479.28H168.82V474.77H169.22V471.36H169.62V472.35H170.03V476.25H170.43V482.85H170.84V486.19H171.24V492.38H171.64V494.62H172.05V497.88H172.45V502.04H172.85V502.7H173.26V505.82H173.66V506.08H174.07V508.07H174.47V507.93H174.87V510.01H175.28V510.73H175.68V509.56H176.09V510.26H176.49V510.15H176.89V510.37H177.3V509.12H177.7V510.59H178.11V511.31H178.51V510.78H178.91V511.91H179.32V512.12H179.72V512.56H180.12V512.75H180.53V513.31H180.93V512.57H181.34V513.28H181.74V512.62H182.14V511.83H182.55V511.86H182.95V511.91H183.36V510.98H183.76V511.81H184.16V510.95H184.57V510.5H184.97V510.08H185.38V509.63H185.78V510.06H186.18V510.52H186.59V509.35H186.99V509.78H187.4V509.29H187.8V509.27H188.2V509.13H188.61V508.25H189.01V508.84H189.41V508.1H189.82V508.11H190.22V507.71H190.63V508.32H191.03V506.69H191.43V507.6H191.84V506.93H192.24V505.84H192.65V506.07H193.05V507.22H193.45V505.58H193.86V505.28H194.26V507.44H194.67V505.33H195.07V506.06H195.47V505.66H195.88V504.41H196.28V505.19H196.69V505.19H197.09V505.94H197.49V504.93H197.9V504.34H198.3V505.7H198.7V504.4H199.11V505.61H199.51V504.69H199.92V504.37H200.32V503.8H200.72V505.09H201.13V504.71H201.53V506.04H201.94V504.98H202.34V504.32H202.74V504.84H203.15V504.69H203.55V505.46H203.96V505.56H204.36V506.77H204.76V505.85H205.17V506.9H205.57V505.37H205.97V505.62H206.38V506.92H206.78V506.23H207.19V505.21H207.59V506.38H207.99V506.52H208.4V506.65H208.8V505.6H209.21V507.93H209.61V506.51H210.01V507.62H210.42V507.86H210.82V507.28H211.23V507.38H211.63V508.13H212.03V506.86H212.44V506.21H212.84V507.24H213.25V505.57H213.65V505.15H214.05V501.99H214.46V498.54H214.86V495.01H215.26V485.58H215.67V476.59H216.07V467.59H216.48V459.23H216.88V449.8H217.28V446.7H217.69V448.86H218.09V437.96H218.5V438.07H218.9V432.38H219.3V434.96H219.71V435.32H220.11V449.63H220.52V439.73H220.92V430.15H221.32V433.88H221.73V429.79H222.13V433.63H222.54V434H222.94V435.94H223.34V448.49H223.75V452.62H224.15V456.91H224.55V454.57H224.96V454.77H225.36V451.9H225.77V455.89H226.17V458.55H226.57V460.29H226.98V460.8H227.38V459.84H227.79V455.01H228.19V454.22H228.59V456.02H229V454.44H229.4V457.99H229.81V460.97H230.21V463.12H230.61V469H231.02V469.35H231.42V469.13H231.83V472H232.23V470.61H232.63V474.31H233.04V472.57H233.44V476.79H233.84V477.72H234.25V473.11H234.65V466.46H235.06V461.54H235.46V460.84H235.86V454.79H236.27V457.73H236.67V461.16H237.08V464.9H237.48V468.26H237.88V468.91H238.29V465.69H238.69V465.1H239.1V460.69H239.5V452.8H239.9V453.98H240.31V460.81H240.71V460.5H241.11V465.68H241.52V472.28H241.92V479.42H242.33V485.31H242.73V494.74H243.13V501.32H243.54V505.8H243.94V507.92H244.35V510.26H244.75V510.74H245.15V510.22H245.56V510.01H245.96V511.76H246.37V510.87H246.77V510.41H247.17V510.91H247.58V509.79H247.98V509.98H248.39V510.19H248.79V509.75H249.19V509.74H249.6V511.69H250V510.99H250.4V512.63H250.81V512.17H251.21V512.7H251.62V513.48H252.02V512.89H252.42V513.86H252.83V514.51H253.23V514.68H253.64V513.71H254.04V512.68H254.44V512.02H254.85V511.18H255.25V509.82H255.66V507.86H256.06V506.3H256.46V505.09H256.87V502.66H257.27V502.55H257.68V501.51H258.08V501.16H258.48V500.67H258.89V501.92H259.29V504.04H259.69V504.93H260.1V505.31H260.5V507.45H260.91V509.08H261.31V510.78H261.71V512.16H262.12V514.44H262.52V516.61H262.93V516.33H263.33V517.26H263.73V517.48H264.14V517.9H264.54V519.85H264.95V518.65H265.35V518.44H265.75V519.23H266.16V518.93H266.56V519H266.96V518.98H267.37V518.69H267.77V518.43H268.18V517.7H268.58V517.73H268.98V516.9H269.39V516.12H269.79V501.41H270.2V500.73H270.6V525.7Z" fill="#318ccb" filter="url(#soft)" clip-path="url(#clip-k)"/>
<rect x="167.2" y="420.6" width="103.4" height="103.1" fill="none" stroke="#b4b4b4" stroke-width="0.55"/>
<text x="187.17" y="529.6" text-anchor="middle">50</text>
<text x="207.38" y="529.6" text-anchor="middle">100</text>
<text x="227.59" y="529.6" text-anchor="middle">150</text>
<text x="247.8" y="529.6" text-anchor="middle">200</text>
<text x="268.01" y="529.6" text-anchor="middle">250</text>
<text x="165.9" y="525.45" text-anchor="end">0</text>
<text x="165.9" y="502.06" text-anchor="end">500</text>
<text x="165.9" y="478.67" text-anchor="end">1000</text>
<text x="165.9" y="455.28" text-anchor="end">1500</text>
<text x="165.9" y="431.89" text-anchor="end">2000</text>
<path d="M187.17 523.7v-1M187.17 420.6v1M207.38 523.7v-1M207.38 420.6v1M227.59 523.7v-1M227.59 420.6v1M247.8 523.7v-1M247.8 420.6v1M268.01 523.7v-1M268.01 420.6v1M167.2 523.7h1M270.6 523.7h-1M167.2 500.31h1M270.6 500.31h-1M167.2 476.92h1M270.6 476.92h-1M167.2 453.53h1M270.6 453.53h-1M167.2 430.14h1M270.6 430.14h-1" stroke="#b4b4b4" stroke-width="0.5" fill="none"/>
</g>
<g id="p-l">
<clipPath id="clip-l"><rect x="321.6" y="422.5" width="102.9" height="102.2"/></clipPath>
<rect x="311.6" y="415.2" width="118.7" height="118.5" fill="#f0f0f0"/>
<rect x="321.6" y="422.5" width="102.9" height="102.2" fill="#fff"/>
<path d="M321.6 526.7V519.02H322V517.98H322.4V516.87H322.81V515.47H323.21V515.23H323.61V514.17H324.01V512.68H324.41V513H324.82V514.36H325.22V514.93H325.62V515.16H326.02V515.7H326.42V515.99H326.83V515.24H327.23V515.65H327.63V515.25H328.03V515.14H328.43V515.01H328.84V514.49H329.24V515H329.64V515.46H330.04V514.94H330.44V515.37H330.84V514.39H331.25V514.52H331.65V513.96H332.05V514.71H332.45V514.22H332.85V514.48H333.26V513.36H333.66V513.24H334.06V512.88H334.46V512.83H334.86V511.45H335.27V510.08H335.67V510.05H336.07V508.83H336.47V508.46H336.87V508.45H337.28V507.25H337.68V506.9H338.08V505.46H338.48V504.48H338.88V505.03H339.29V504.72H339.69V502.67H340.09V503.26H340.49V504.33H340.89V504.35H341.3V507.75H341.7V508.34H342.1V510.62H342.5V511.49H342.9V512.45H343.31V514.33H343.71V513.84H344.11V514.32H344.51V514.5H344.91V513.41H345.32V513.83H345.72V512.99H346.12V513.23H346.52V512.31H346.92V512.22H347.32V511.69H347.73V512.51H348.13V512.3H348.53V512.27H348.93V512.94H349.33V512.39H349.74V512.17H350.14V511.63H350.54V510.9H350.94V512.32H351.34V509.91H351.75V507.56H352.15V505.09H352.55V502.5H352.95V497.18H353.35V491.97H353.76V485.76H354.16V480.08H354.56V474.4H354.96V467.19H355.36V460.12H355.77V456.87H356.17V448.8H356.57V442.84H356.97V438.59H357.37V433.86H357.78V433.72H358.18V430.06H358.58V440.75H358.98V442.6H359.38V450.08H359.79V451.25H360.19V461.48H360.59V466.55H360.99V474.6H361.39V479.28H361.8V482.52H362.2V487.96H362.6V491.64H363V494.75H363.4V496.73H363.81V497.73H364.21V500.69H364.61V502.21H365.01V502.54H365.41V505.23H365.81V504.85H366.22V506.12H366.62V507.03H367.02V507.55H367.42V508.53H367.82V509.36H368.23V509.34H368.63V509.65H369.03V510.85H369.43V511.5H369.83V510.8H370.24V510.42H370.64V511.09H371.04V510.06H371.44V510.35H371.84V510.22H372.25V509.34H372.65V511.12H373.05V510H373.45V510.57H373.85V510.69H374.26V508.52H374.66V508.03H375.06V507.68H375.46V508.3H375.86V507.23H376.27V506.92H376.67V506.66H377.07V506.3H377.47V506.87H377.87V506.33H378.28V506.52H378.68V506.29H379.08V508.4H379.48V509.04H379.88V509.28H380.29V510.53H380.69V510.31H381.09V508.54H381.49V509.2H381.89V509.83H382.29V508.15H382.7V508.45H383.1V508.08H383.5V508.3H383.9V507.16H384.3V507.05H384.71V507.81H385.11V505.57H385.51V505.8H385.91V504.9H386.31V503.94H386.72V502.58H387.12V502.87H387.52V503.35H387.92V501.21H388.32V501.81H388.73V499.63H389.13V499.06H389.53V497.1H389.93V495.03H390.33V495.41H390.74V491.84H391.14V492.23H391.54V490.16H391.94V488.39H392.34V487.15H392.75V484.42H393.15V479.85H393.55V475.32H393.95V474.61H394.35V474.93H394.76V478.93H395.16V480.26H395.56V482.33H395.96V479.74H396.36V477.71H396.77V476.64H397.17V472.29H397.57V467.6H397.97V465.63H398.37V461.14H398.77V459.5H399.18V457.79H399.58V454.21H399.98V454.69H400.38V450.8H400.78V442.07H401.19V435.73H401.59V423.07H401.99V436.39H402.39V443.46H402.79V456.61H403.2V462.82H403.6V475.62H404V484.19H404.4V492.17H404.8V498.62H405.21V501.88H405.61V504.96H406.01V510.01H406.41V514.01H406.81V518.46H407.22V515.04H407.62V512.52H408.02V507.97H408.42V513.64H408.82V519.34H409.23V519.91H409.63V520.8H410.03V521.2H410.43V521.28H410.83V521.13H411.24V521.68H411.64V520.76H412.04V521H412.44V521H412.84V520.66H413.25V520.84H413.65V520.93H414.05V520.74H414.45V521.02H414.85V520.62H415.26V520.73H415.66V520.88H416.06V521.07H416.46V521.47H416.86V521.3H417.26V521.11H417.67V520.79H418.07V520.02H418.47V521.43H418.87V521.81H419.27V521.7H419.68V521.56H420.08V521.63H420.48V521.11H420.88V521.29H421.28V522.09H421.69V521.89H422.09V522.43H422.49V522.35H422.89V522.62H423.29V522.35H423.7V516.99H424.1V516.76H424.5V526.7Z" fill="#318ccb" filter="url(#soft)" clip-path="url(#clip-l)"/>
<rect x="321.6" y="422.5" width="102.9" height="102.2" fill="none" stroke="#b4b4b4" stroke-width="0.55"/>
<text x="341.47" y="530.6" text-anchor="middle">50</text>
<text x="361.59" y="530.6" text-anchor="middle">100</text>
<text x="381.7" y="530.6" text-anchor="middle">150</text>
<text x="401.81" y="530.6" text-anchor="middle">200</text>
<text x="421.93" y="530.6" text-anchor="middle">250</text>
<text x="320.3" y="526.45" text-anchor="end">0</text>
<text x="320.3" y="508.81" text-anchor="end">500</text>
<text x="320.3" y="491.17" text-anchor="end">1000</text>
<text x="320.3" y="473.53" text-anchor="end">1500</text>
<text x="320.3" y="455.89" text-anchor="end">2000</text>
<text x="320.3" y="438.26" text-anchor="end">2500</text>
<path d="M341.47 524.7v-1M341.47 422.5v1M361.59 524.7v-1M361.59 422.5v1M381.7 524.7v-1M381.7 422.5v1M401.81 524.7v-1M401.81 422.5v1M421.93 524.7v-1M421.93 422.5v1M321.6 524.7h1M424.5 524.7h-1M321.6 507.06h1M424.5 507.06h-1M321.6 489.42h1M424.5 489.42h-1M321.6 471.78h1M424.5 471.78h-1M321.6 454.14h1M424.5 454.14h-1M321.6 436.51h1M424.5 436.51h-1" stroke="#b4b4b4" stroke-width="0.5" fill="none"/>
</g>
<g id="captions">
<text class="cap" x="63" y="134.6" text-anchor="middle">a. Histogram of image 000019</text>
<text class="cap" x="216.4" y="134.6" text-anchor="middle">b. Histogram of image 000436</text>
<text class="cap" x="370.5" y="134.6" text-anchor="middle">c. Histogram of image 001478</text>
<text class="cap" x="63" y="272" text-anchor="middle">d. Histogram of image 003579</text>
<text class="cap" x="216.4" y="272" text-anchor="middle">e. Histogram of image 004423</text>
<text class="cap" x="370.5" y="272" text-anchor="middle">f. Histogram of image 006404</text>
<text class="cap" x="63" y="409.4" text-anchor="middle">g. Histogram of image 001236</text>
<text class="cap" x="216.4" y="409.4" text-anchor="middle">h. Histogram of image 001876</text>
<text class="cap" x="370.5" y="409.4" text-anchor="middle">i. Histogram of image 002036</text>
<text class="cap" x="63" y="546.8" text-anchor="middle">j. Histogram of image 004231</text>
<text class="cap" x="216.4" y="546.8" text-anchor="middle">k. Histogram of image 004610</text>
<text class="cap" x="370.5" y="546.8" text-anchor="middle">l. Histogram of image 006404</text>
</g>
</svg>
</body>
</html>
